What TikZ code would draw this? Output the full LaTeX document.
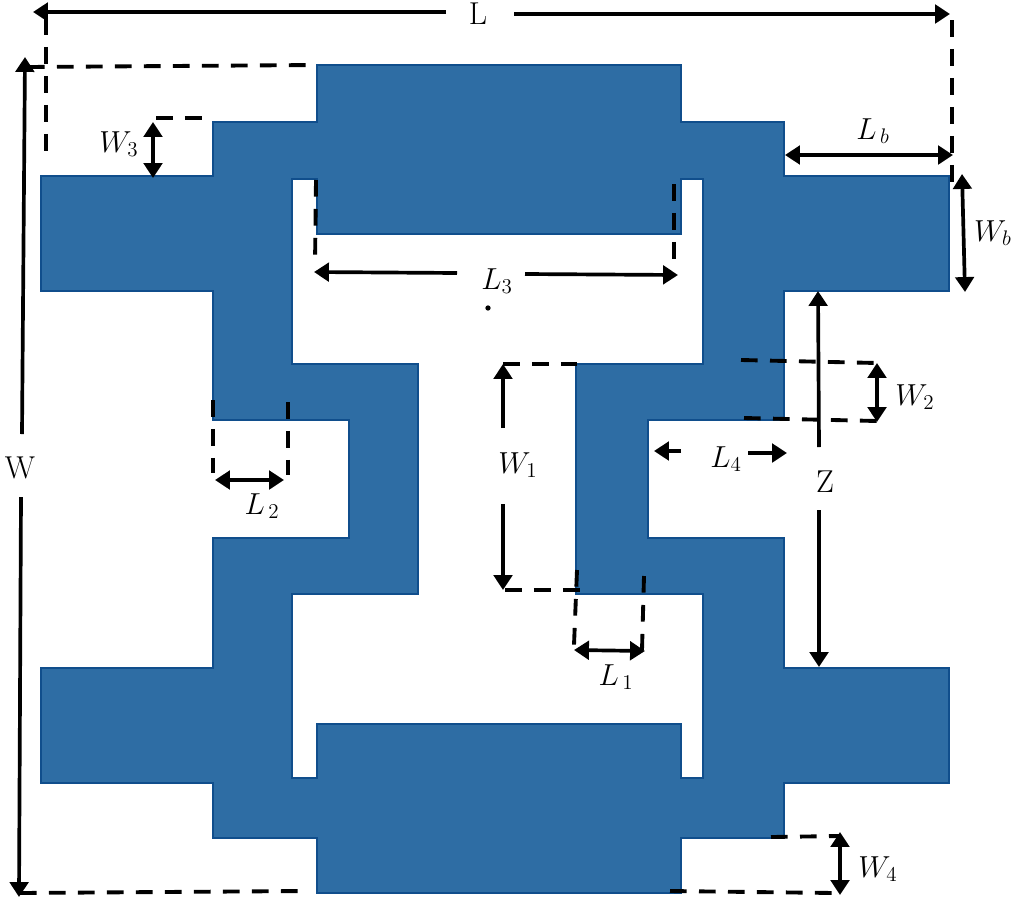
\documentclass[tikz,border=0pt]{standalone}
\usetikzlibrary{arrows.meta}

\definecolor{patchblue}{RGB}{46,109,164}
\definecolor{patchedge}{RGB}{16,78,140}

\tikzset{
    patch/.style={fill=patchblue, draw=patchedge, line width=1.2pt, even odd rule},
    dimline/.style={line width=2.1pt, black, line cap=butt},
    dimsingle/.style={dimline, -{Triangle[length=8.5pt, width=10.5pt]}},
    dimboth/.style={dimline, {Triangle[length=8.5pt, width=10.5pt]}-{Triangle[length=8.5pt, width=10.5pt]}},
    guide/.style={line width=2.2pt, black, dash pattern=on 9.5pt off 7pt},
    dimlabel/.style={inner sep=0pt, font=\fontsize{18}{21}\selectfont}
}

\begin{document}
\begin{tikzpicture}[x=0.02cm, y=-0.02cm]
    \useasboundingbox (0,0) rectangle (1013,906);

    % Draw the patch with its slot
    \draw[patch]
        (317,65) -- (681,65) -- (681,122) -- (784,122) -- (784,176) -- (949,176)
        -- (949,291) -- (784,291) -- (784,420) -- (648,420) -- (648,538) -- (784,538)
        -- (784,668) -- (949,668) -- (949,783) -- (784,783) -- (784,838) -- (681,838)
        -- (681,893) -- (317,893) -- (317,838) -- (213,838) -- (213,783) -- (41,783)
        -- (41,668) -- (213,668) -- (213,538) -- (349,538) -- (349,420) -- (213,420)
        -- (213,291) -- (41,291) -- (41,176) -- (213,176) -- (213,122) -- (317,122) -- cycle
        (292,179) -- (317,179) -- (317,234) -- (681,234) -- (681,179) -- (703,179)
        -- (703,364) -- (576,364) -- (576,594) -- (703,594) -- (703,778) -- (681,778)
        -- (681,724) -- (317,724) -- (317,778) -- (292,778) -- (292,594) -- (418,594)
        -- (418,364) -- (292,364) -- cycle;

    % Labels
    \node[dimlabel] (labL) at (478,14) {L};
    \node[dimlabel] (labW) at (20,468) {W};
    \node[dimlabel] (labZ) at (825,482) {Z};
    \node[dimlabel] (labLb) at (873,131) {$L_{\,b}$};
    \node[dimlabel] (labWb) at (993,233) {$W_{b}$};
    \node[dimlabel] (labWthree) at (119,144) {$W_{3}$};
    \node[dimlabel] (labLthree) at (497,281) {$L_{3}$};
    \node[dimlabel] (labWone) at (518,465) {$W_{1}$};
    \node[dimlabel] (labWtwo) at (915,397) {$W_{2}$};
    \node[dimlabel] (labLtwo) at (262,506) {$L_{\,2}$};
    \node[dimlabel] (labLone) at (616,677) {$L_{\,1}$};
    \node[dimlabel] (labLfour) at (726,459) {$L_{4}$};
    \node[dimlabel] (labWfour) at (878,869) {$W_{4}$};

    % End points of the dimension lines
    \coordinate (Lleft) at (33,12);
    \coordinate (Lleftin) at (446,12);
    \coordinate (Lrightin) at (514,14);
    \coordinate (Lright) at (950,14);
    \coordinate (Wtop) at (25,57);
    \coordinate (Wtopin) at (22,434);
    \coordinate (Wbotin) at (21,497);
    \coordinate (Wbot) at (19,897);
    \coordinate (Lbleft) at (785,155);
    \coordinate (Lbright) at (953,155);
    \coordinate (Wbtop) at (962,174);
    \coordinate (Wbbot) at (965,292);
    \coordinate (Wthreetop) at (153,122);
    \coordinate (Wthreebot) at (153,178);
    \coordinate (Lthreeleft) at (314,272);
    \coordinate (Lthreeleftin) at (457,273);
    \coordinate (Lthreerightin) at (525,274);
    \coordinate (Lthreeright) at (678,275);
    \coordinate (Wonetop) at (503,364);
    \coordinate (Wonetopin) at (503,428);
    \coordinate (Wonebotin) at (503,504);
    \coordinate (Wonebot) at (503,590);
    \coordinate (Ztop) at (818,291);
    \coordinate (Ztopin) at (819,447);
    \coordinate (Zbotin) at (819,510);
    \coordinate (Zbot) at (819,667);
    \coordinate (Wtwotop) at (877,363);
    \coordinate (Wtwobot) at (877,422);
    \coordinate (Lfourleft) at (654,451);
    \coordinate (Lfourleftin) at (681,451);
    \coordinate (Lfourrightin) at (748,453);
    \coordinate (Lfourright) at (787,453);
    \coordinate (Ltwoleft) at (215,480);
    \coordinate (Ltworight) at (284,480);
    \coordinate (Loneleft) at (574,650);
    \coordinate (Loneright) at (645,651);
    \coordinate (Wfourtop) at (840,832);
    \coordinate (Wfourbot) at (840,895);

    % Dimension arrows
    \draw[dimsingle] (Lleftin) -- (Lleft);
    \draw[dimsingle] (Lrightin) -- (Lright);
    \draw[dimsingle] (Wtopin) -- (Wtop);
    \draw[dimsingle] (Wbotin) -- (Wbot);
    \draw[dimsingle] (Lthreeleftin) -- (Lthreeleft);
    \draw[dimsingle] (Lthreerightin) -- (Lthreeright);
    \draw[dimsingle] (Wonetopin) -- (Wonetop);
    \draw[dimsingle] (Wonebotin) -- (Wonebot);
    \draw[dimsingle] (Ztopin) -- (Ztop);
    \draw[dimsingle] (Zbotin) -- (Zbot);
    \draw[dimsingle] (Lfourleftin) -- (Lfourleft);
    \draw[dimsingle] (Lfourrightin) -- (Lfourright);
    \draw[dimboth] (Lbleft) -- (Lbright);
    \draw[dimboth] (Wbtop) -- (Wbbot);
    \draw[dimboth] (Wthreetop) -- (Wthreebot);
    \draw[dimboth] (Wtwotop) -- (Wtwobot);
    \draw[dimboth] (Ltwoleft) -- (Ltworight);
    \draw[dimboth] (Loneleft) -- (Loneright);
    \draw[dimboth] (Wfourtop) -- (Wfourbot);

    % Dashed guide lines
    \coordinate (gA) at (46,18);    \coordinate (gB) at (46,158);
    \coordinate (gC) at (952,20);   \coordinate (gD) at (952,186);
    \coordinate (gE) at (28,67);    \coordinate (gF) at (317,65);
    \coordinate (gG) at (156,118);  \coordinate (gH) at (206,118);
    \coordinate (gI) at (316,180);  \coordinate (gJ) at (315,265);
    \coordinate (gK) at (674,184);  \coordinate (gL) at (674,260);
    \coordinate (gM) at (20,893);   \coordinate (gN) at (305,891);
    \coordinate (gO) at (670,891);  \coordinate (gP) at (835,893);
    \coordinate (gQ) at (771,837);  \coordinate (gR) at (840,836);
    \coordinate (gS) at (741,360);  \coordinate (gT) at (877,363);
    \coordinate (gU) at (744,418);  \coordinate (gV) at (877,421);
    \coordinate (gW) at (503,364);  \coordinate (gX) at (577,364);
    \coordinate (gY) at (505,590);  \coordinate (gZ) at (580,590);
    \coordinate (hA) at (577,570);  \coordinate (hB) at (574,645);
    \coordinate (hC) at (644,576);  \coordinate (hD) at (642,650);
    \coordinate (hE) at (213,400);  \coordinate (hF) at (213,473);
    \coordinate (hG) at (288,402);  \coordinate (hH) at (288,475);

    \foreach \a/\b in {gA/gB, gC/gD, gE/gF, gG/gH, gI/gJ, gK/gL, gM/gN, gO/gP, gQ/gR,
                       gS/gT, gU/gV, gW/gX, gY/gZ, hA/hB, hC/hD, hE/hF, hG/hH} {
        \draw[guide] (\a) -- (\b);
    }

    % Stray dot
    \node[circle, fill=black, inner sep=0pt, minimum size=3pt] (speck) at (488,308) {};
\end{tikzpicture}
\end{document}
